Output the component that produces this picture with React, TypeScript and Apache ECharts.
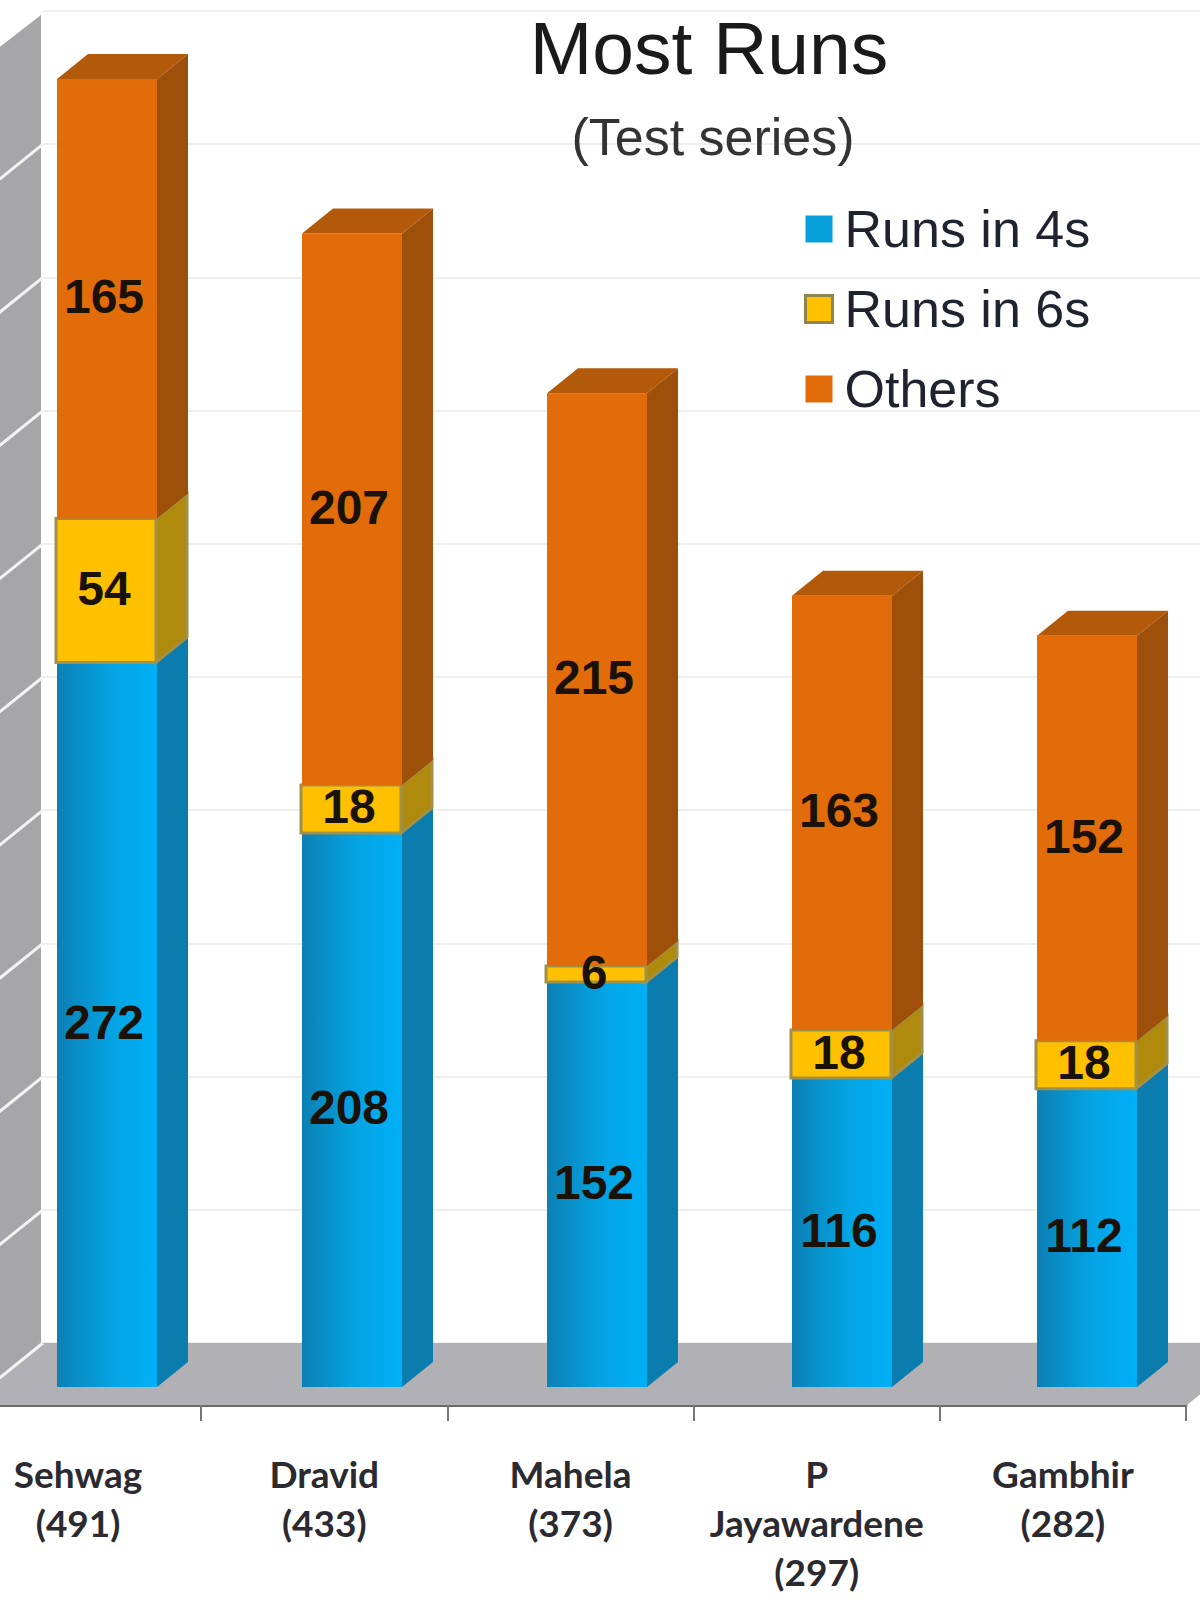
import React, { useEffect, useRef } from "react";
import * as echarts from "echarts";

const categories = ["Sehwag\n(491)", "Dravid\n(433)", "Mahela\n(373)", "P\nJayawardene\n(297)", "Gambhir\n(282)"];
const runsIn4s = [272, 208, 152, 116, 112];
const runsIn6s = [54, 18, 6, 18, 18];
const others = [165, 207, 215, 163, 152];
const wallTicks = [0, 50, 100, 150, 200, 250, 300, 350, 400, 450, 500];

const DX = 31;
const DY = -25;
const HALF = 50;
const WALL_DX = -77;
const WALL_DY = 62;
const SANS = "Liberation Sans";

function segments(base: number[][], vals: number[]) {
  return vals.map((v, i) => [i, base[i][0], base[i][0] + v, v]);
}

const s4 = segments(categories.map(() => [0]), runsIn4s);
const s6 = segments(s4.map((d) => [d[2]]), runsIn6s);
const sO = segments(s6.map((d) => [d[2]]), others);

function barRender(front: any, side: string, stroke: string | null, top: string | null, shift: number) {
  return (_: any, api: any) => {
    const i = api.value(0);
    const [cx, y0] = api.coord([i, api.value(1)]);
    const [, y1] = api.coord([i, api.value(2)]);
    const l = cx - HALF + shift;
    const r = cx + HALF + shift;
    const st = stroke ? { stroke, lineWidth: 3 } : {};
    const children: any[] = [
      {
        type: "polygon",
        shape: { points: [[r, y1], [r + DX, y1 + DY], [r + DX, y0 + DY], [r, y0]] },
        style: { fill: side, ...st },
      },
      {
        type: "rect",
        shape: { x: l, y: y1, width: r - l, height: y0 - y1 },
        style: { fill: front, ...st },
      },
    ];
    if (top) {
      children.push({
        type: "polygon",
        shape: { points: [[l, y1], [l + DX, y1 + DY], [r + DX, y1 + DY], [r, y1]] },
        style: { fill: top },
      });
    }
    children.push({
      type: "text",
      x: cx - 3,
      y: (y0 + y1) / 2 - 2,
      z2: 10,
      style: {
        text: String(api.value(3)),
        fontFamily: SANS,
        fontWeight: "bold",
        fontSize: 48,
        fill: "#1a1208",
        align: "center",
        verticalAlign: "middle",
      },
    });
    return { type: "group", children };
  };
}

const blueFront = {
  type: "linear", x: 0, y: 0, x2: 1, y2: 0,
  colorStops: [
    { offset: 0, color: "#0c80b4" },
    { offset: 0.55, color: "#04a4e4" },
    { offset: 1, color: "#00b0f6" },
  ],
};

export default function App() {
  const ref = useRef<HTMLDivElement>(null);
  useEffect(() => {
    document.body.style.margin = "0";
    document.body.style.background = "#ffffff";
    const chart = echarts.init(ref.current!, null, { renderer: "svg" });
    const k = 2.664;
    const h = 500 * k;
    const option: any = {
      animation: false,
      backgroundColor: "#ffffff",
      title: [
        {
          text: "Most Runs",
          left: 710,
          top: 5,
          textAlign: "center",
          textStyle: { fontFamily: SANS, fontSize: 75, fontWeight: "normal", color: "#1a1a1a" },
        },
        {
          text: "(Test series)",
          left: 712,
          top: 106,
          textAlign: "center",
          textStyle: { fontFamily: SANS, fontSize: 52, fontWeight: "normal", color: "#333333" },
        },
      ].map((t, i) => ({ ...t, left: i === 0 ? 704 : 708 })),
      legend: {
        orient: "vertical",
        left: 799,
        top: 198,
        itemWidth: 27,
        itemHeight: 27,
        itemGap: 28,
        textStyle: { fontFamily: SANS, fontSize: 52, color: "#1f2330", padding: [0, 0, 0, 7] },
        data: [
          { name: "Runs in 4s", icon: "rect", itemStyle: { color: "#05a0dc" } },
          { name: "Runs in 6s", icon: "rect", itemStyle: { color: "#ffc000", borderColor: "#8f8550", borderWidth: 3 } },
          { name: "Others", icon: "rect", itemStyle: { color: "#e36c0a" } },
        ],
      },
      grid: [
        { left: -15.5, width: 1225, top: 1387 - h, height: h, outerBoundsMode: "none" },
        { left: 43, width: 1221, top: 1343 - h, height: h, outerBoundsMode: "none" },
        { left: -45, width: 1231, top: 1395, height: 10, outerBoundsMode: "none" },
      ],
      xAxis: [
        { gridIndex: 0, type: "category", data: categories, show: false },
        { gridIndex: 1, type: "value", min: 0, max: 1, show: false },
        {
          gridIndex: 2,
          type: "category",
          data: categories,
          axisLine: { lineStyle: { color: "#6b6b6b", width: 3 } },
          axisTick: { show: true, length: 16, lineStyle: { color: "#777777", width: 2 } },
          axisLabel: {
            interval: 0,
            margin: 44,
            fontFamily: "Lato",
            fontWeight: "bold",
            fontSize: 37,
            lineHeight: 49,
            color: "#2a2a30",
            verticalAlign: "top",
          },
        },
      ],
      yAxis: [
        { gridIndex: 0, type: "value", min: 0, max: 500, interval: 50, show: false },
        {
          gridIndex: 1,
          type: "value",
          min: 0,
          max: 500,
          interval: 50,
          axisLine: { show: false },
          axisTick: { show: false },
          axisLabel: { show: false },
          splitLine: { show: true, lineStyle: { color: "#eeeeee", width: 2 } },
        },
        { gridIndex: 2, type: "value", show: false },
      ],
      series: [
        {
          type: "custom",
          name: "wall",
          xAxisIndex: 1,
          yAxisIndex: 1,
          clip: false,
          data: [[0, 500]],
          renderItem: (_: any, api: any) => {
            const [bx0, by0] = api.coord([0, api.value(0)]);
            const [, by1] = api.coord([0, api.value(1)]);
            const [bx1] = api.coord([1, 0]);
            return {
              type: "group",
              children: [
                {
                  type: "polygon",
                  shape: {
                    points: [
                      [bx0 - 2, by1 + 4],
                      [bx0 - 2, by0],
                      [bx0 + WALL_DX, by0 + WALL_DY],
                      [bx0 + WALL_DX, by1 + WALL_DY],
                    ],
                  },
                  style: { fill: "#a6a6a8" },
                },
                {
                  type: "polygon",
                  shape: {
                    points: [
                      [bx0, by0],
                      [bx1, by0],
                      [bx1 + WALL_DX, by0 + WALL_DY],
                      [bx0 + WALL_DX, by0 + WALL_DY],
                    ],
                  },
                  style: { fill: "#b1b1b5" },
                },
              ],
            };
          },
        },
        {
          type: "custom",
          name: "wallLines",
          xAxisIndex: 1,
          yAxisIndex: 1,
          clip: false,
          data: wallTicks.slice(0, -1).map((v) => [0, v]),
          renderItem: (_: any, api: any) => {
            const [x, y] = api.coord([0, api.value(1)]);
            return {
              type: "line",
              shape: { x1: x, y1: y, x2: x + WALL_DX, y2: y + WALL_DY },
              style: { stroke: "#f4f4f4", lineWidth: 3 },
            };
          },
        },
        {
          type: "custom",
          name: "Runs in 4s",
          xAxisIndex: 0,
          yAxisIndex: 0,
          clip: false,
          itemStyle: { color: "#05a0dc" },
          encode: { x: 0, y: 2 },
          data: s4,
          renderItem: barRender(blueFront, "#0a7cad", null, null, 0),
        },
        {
          type: "custom",
          name: "Runs in 6s",
          xAxisIndex: 0,
          yAxisIndex: 0,
          clip: false,
          itemStyle: { color: "#ffc000" },
          encode: { x: 0, y: 2 },
          data: s6,
          renderItem: barRender("#ffc000", "#b08a0c", "#a09048", null, -1),
        },
        {
          type: "custom",
          name: "Others",
          xAxisIndex: 0,
          yAxisIndex: 0,
          clip: false,
          itemStyle: { color: "#e36c0a" },
          encode: { x: 0, y: 2 },
          data: sO,
          renderItem: barRender("#e36c0a", "#9e4f0a", null, "#b2590a", 0),
        },
      ],
    };
    chart.setOption(option);
    return () => chart.dispose();
  }, []);
  return <div ref={ref} style={{ width: 1200, height: 1600 }} />;
}
